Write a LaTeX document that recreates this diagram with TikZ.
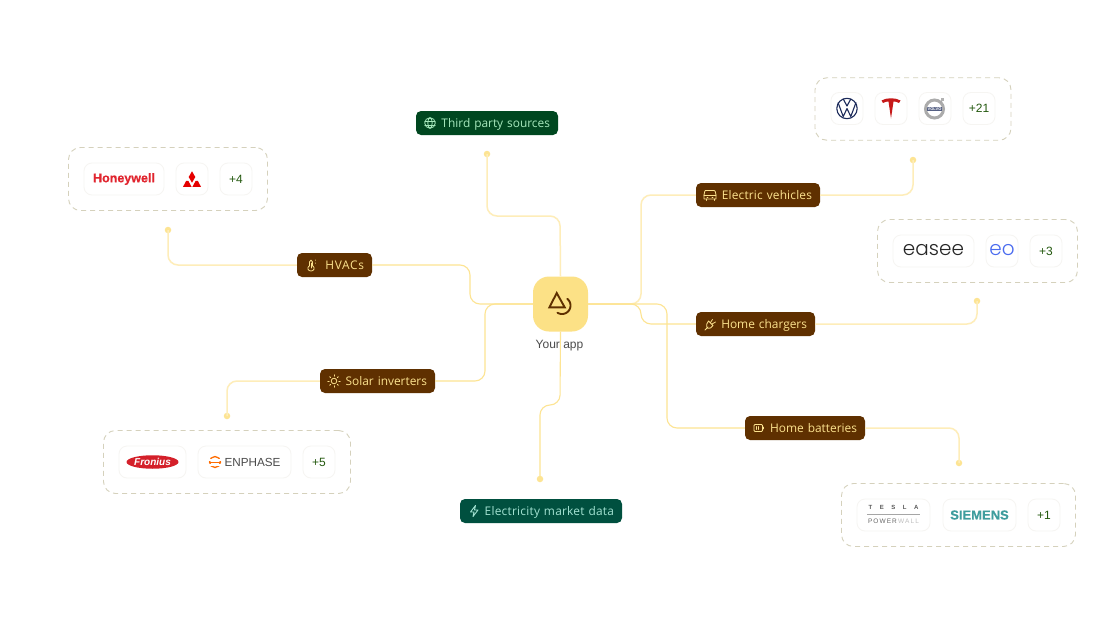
\documentclass[tikz,border=0pt]{standalone}
\usepackage{fontspec}
\setmainfont{Liberation Sans}
\newfontfamily\pillfont{Open Sans}
\newfontfamily\popfont{Poppins}[UprightFont=* Light]
\newfontfamily\heavyfont{Liberation Sans}[BoldFeatures={FakeBold=0.5}]
\usetikzlibrary{shapes.geometric,calc}
\definecolor{wirec}{HTML}{FDE493}
\definecolor{wirel}{HTML}{FEEDB9}
\definecolor{brownp}{HTML}{5F3000}
\definecolor{browntx}{HTML}{FCE28E}
\definecolor{greenp}{HTML}{004720}
\definecolor{greentx}{HTML}{A6E8BC}
\definecolor{tealp}{HTML}{00503F}
\definecolor{tealtx}{HTML}{A3E2D2}
\definecolor{dashc}{HTML}{D5D1BC}
\definecolor{cardb}{HTML}{F6F5F2}
\definecolor{plusc}{HTML}{24590F}
\definecolor{appc}{HTML}{FCE186}
\definecolor{navyvw}{HTML}{1B2A5A}
\definecolor{froniusred}{HTML}{D4202A}
\tikzset{
  x=1pt,y=-1pt,
  wire/.style={draw=wirec,line width=1.1pt,rounded corners=10pt},
  wirelite/.style={draw=wirel,line width=1.5pt,rounded corners=10pt},
  enddot/.style={circle,fill=wirec,inner sep=0pt,minimum size=6.5pt},
  pillbase/.style={rounded corners=5pt,minimum height=24pt,inner xsep=8pt,inner ysep=0pt,text height=10pt,text depth=2pt,text width=#1,align=right,font=\pillfont\fontsize{11.9}{13}\selectfont},
  brownpill/.style={pillbase=#1,fill=brownp,text=browntx},
  greenpill/.style={pillbase=#1,fill=greenp,text=greentx},
  tealpill/.style={pillbase=#1,fill=tealp,text=tealtx},
  dashbox/.style={draw=dashc,line width=0.9pt,dash pattern=on 5pt off 4pt,rounded corners=12pt},
  card/.style={draw=cardb,line width=0.8pt,fill=white,rounded corners=8pt,minimum height=32pt,minimum width=#1,inner sep=0pt},
  card/.default=32pt,
  plustx/.style={text=plusc,font=\fontsize{12}{14}\selectfont},
  icob/.style={draw=browntx,line width=0.8pt,line cap=round,line join=round},
  icog/.style={draw=greentx,line width=0.8pt,line cap=round,line join=round},
  icot/.style={draw=tealtx,line width=0.9pt,line cap=round,line join=round},
  appico/.style={draw=brownp,line width=1.9pt,line join=miter,line cap=round},
}
\begin{document}
\begin{tikzpicture}
\useasboundingbox (0,0) rectangle (1120,640);
\fill[white] (0,0) rectangle (1120,640);

% central app and end points
\node[fill=appc,rounded corners=16pt,minimum size=55pt,inner sep=0pt] (app) at (560.5,304) {};
\node[enddot] (dtp) at (487,154) {};
\node[enddot] (dhv) at (168,230) {};
\node[enddot] (dso) at (227,416) {};
\node[enddot] (dem) at (540,479) {};
\node[enddot] (dev) at (913,160) {};
\node[enddot] (dch) at (977,301) {};
\node[enddot] (dba) at (959,463) {};

% pills
\node[greenpill=126pt] (tps) at (487,123) {Third party sources};
\node[brownpill=59pt] (hvac) at (334.5,265) {\addfontfeature{LetterSpace=6}HVACs};
\node[brownpill=99pt] (solar) at (377.5,381) {Solar inverters};
\node[tealpill=146pt] (elec) at (541,511) {\addfontfeature{LetterSpace=2}Electricity market data};
\node[brownpill=108pt] (ev) at (758,195) {\addfontfeature{LetterSpace=1.5}Electric vehicles};
\node[brownpill=103pt] (chg) at (755.5,324) {Home chargers};
\node[brownpill=104pt] (bat) at (805,428) {Home batteries};

% waypoints
\coordinate (wtp) at (560,216);
\coordinate (whv) at (470,304);
\coordinate (wso) at (485,304);
\coordinate (wem) at (560,405);
\coordinate (wev) at (641,195);
\coordinate (wch) at (641,324);
\coordinate (wba) at (667,428);

% connectors
\draw[wirelite] (dtp.center) |- (wtp) -- (app.north);
\draw[wirelite] (dhv.center) |- (hvac.west);
\draw[wire] (hvac.east) -| (whv) -- (app.west);
\draw[wirelite] (dso.center) |- (solar.west);
\draw[wire] (solar.east) -| (wso) -- (app.west);
\draw[wire] (dem.center) |- (wem) -- (app.south);
\draw[wirelite] (app.east) -| (wev) -- (ev.west);
\draw[wirelite] (ev.east) -| (dev.center);
\draw[wire] (app.east) -| (wch) -- (chg.west);
\draw[wirelite] (chg.east) -| (dch.center);
\draw[wire] (app.east) -| (wba) -- (bat.west);
\draw[wirelite] (bat.east) -| (dba.center);

\node[text=black!70,font=\fontsize{12}{14}\selectfont] (applabel) at (559.5,345.5) {Your app};

% app glyph
\draw[appico] (556.7,293) -- (549.5,307.3) -- (564.7,307.3) -- cycle;
\draw[appico] plot[domain=-52:122,samples=30,smooth] ({562+8.5*cos(\x)},{305.5+8.5*sin(\x)});

% dashed groups
\node[dashbox,minimum width=196pt,minimum height=62.5pt] (gev) at (913,109) {};
\node[dashbox,minimum width=200pt,minimum height=63pt] (gch) at (977.5,251) {};
\node[dashbox,minimum width=199pt,minimum height=63pt] (ghv) at (168,179) {};
\node[dashbox,minimum width=247pt,minimum height=63pt] (gso) at (227,462) {};
\node[dashbox,minimum width=234pt,minimum height=63pt] (gba) at (958.5,515) {};

% HVAC cards
\node[card=80pt,font=\heavyfont\bfseries\fontsize{12.5}{14}\selectfont] (honey) at (124,179) {\textcolor[HTML]{E1252F}{Honeywell}};
\node[card] (mitsu) at (192,179) {};
\fill[red!90!black] (192,171.3) -- (195.3,177) -- (192,182.7) -- (188.7,177) -- cycle;
\fill[red!90!black] (191.6,186.9) -- (183,186.9) -- (186.2,180.8) -- (188.4,181) -- cycle;
\fill[red!90!black] (192.4,186.9) -- (201,186.9) -- (197.8,180.8) -- (195.6,181) -- cycle;
\node[card,plustx] (hvp) at (236,179) {+4};

% EV cards
\node[card] (vw) at (847,108.5) {};
\begin{scope}[draw=navyvw,line width=1.1pt,line join=round]
\draw (847,108.5) circle[radius=10.2pt];
\draw (843.2,99) -- (847,106) -- (850.8,99);
\draw (838,102.5) -- (843.2,116.5) -- (847,108.6) -- (850.8,116.5) -- (856,102.5);
\end{scope}
\node[card] (tesla) at (891,108.5) {};
\fill[red!75!black!90] (881.5,100.5) .. controls (886,97.5) and (896,97.5) .. (900.5,100.5) -- (899,103) .. controls (897,101.8) and (895,101.5) .. (893.5,101.5) -- (891,118.5) -- (888.5,101.5) .. controls (887,101.5) and (885,101.8) .. (883,103) -- cycle;
\node[card] (volvo) at (935,108.5) {};
\draw[black!33,line width=3pt] (934.5,109) circle[radius=9pt];
\draw[black!35,line width=1pt] (940,103) -- (943,99.5);
\fill[black!30] (941,98) rectangle (944,101);
\node[fill=navyvw!75,text=white,inner xsep=1pt,inner ysep=0.6pt,font=\bfseries\fontsize{4}{4}\selectfont] (volvotx) at (934.5,109) {VOLVO};
\node[card,plustx] (evp) at (979,108.5) {+21};

% Charger cards
\node[card=81pt,text=black!85,font=\popfont\fontsize{20}{22}\selectfont] (easee) at (933.5,251) {\raisebox{2pt}{easee}};
\node[card,font=\popfont\fontsize{20}{22}\selectfont] (eo) at (1002,251) {\textcolor[HTML]{4A6BEF}{\raisebox{2pt}{eo}}};
\node[card,plustx] (chp) at (1046,251) {+3};

% Solar cards
\node[card=67pt] (fron) at (152.5,462) {};
\node[ellipse,fill=froniusred,text=white,minimum width=52pt,minimum height=13.5pt,inner sep=0pt,font=\bfseries\itshape\fontsize{10}{10}\selectfont] (frontx) at (152.5,462) {Fronius};
\node[card=93pt] (enph) at (244.5,462) {};
\draw[orange!85!red,line width=1.3pt] (215,462) circle[radius=5.5pt];
\draw[white,line width=2pt] (208,459.5) -- (222,459.5) (208,464.5) -- (222,464.5);
\draw[orange!85!red,line width=1pt] (209,462) -- (221,462);
\node[text=black!70,font=\fontsize{11.7}{14}\selectfont,inner sep=0pt] (enphtx) at (252.5,462) {ENPHASE};
\node[card,plustx] (sop) at (319,462) {+5};

% Battery cards
\node[card=73pt] (pw) at (893.5,515) {};
\node[text=black!65,font=\bfseries\fontsize{6}{7}\selectfont,inner sep=0pt] (pwa) at (893.5,507.7) {T\hspace{7.5pt}E\hspace{7.5pt}S\hspace{7.5pt}L\hspace{7.5pt}A};
\draw[black!35,line width=0.5pt] (867,514.5) -- (920,514.5);
\node[font=\fontsize{6.5}{7}\selectfont,inner sep=0pt] (pwb) at (893.5,521) {\textcolor{black!60}{P\,O\,W\,E\,R}\textcolor{black!25}{\,W\,A\,L\,L}};
\node[card=73pt,font=\heavyfont\bfseries\fontsize{13}{15}\selectfont] (siem) at (979.5,515) {\textcolor[HTML]{3F9D9E}{SIEMENS}};
\node[card,plustx] (bap) at (1044,515) {+1};

% pill icons
\begin{scope}[icog]
\draw (430,123) circle[radius=5.3pt];
\draw (430,123) ellipse[x radius=2.2pt,y radius=5.3pt];
\draw (424.8,121) -- (435.2,121) (424.8,125) -- (435.2,125);
\end{scope}
\begin{scope}[icot]
\draw (475.5,505.5) -- (470.5,512) -- (474,512) -- (473,516.5) -- (478,510) -- (474.5,510) -- cycle;
\end{scope}
\begin{scope}[icob]
% thermometer
\draw (309.5,262) -- (309.5,266) (312.5,262) -- (312.5,266);
\draw (309.5,262) .. controls (309.5,259.5) and (312.5,259.5) .. (312.5,262);
\draw (309.5,265.5) .. controls (306.5,268) and (308,271) .. (311,271) .. controls (314,271) and (315.5,268) .. (312.5,265.5);
\draw (311,263) -- (311,268);
\draw (315,260) -- (315,260.2) (315,263) -- (315,263.2);
% sun
\draw (334,381) circle[radius=2.8pt];
\foreach \a in {0,45,...,315}{\draw ({334+4.8*cos(\a)},{381+4.8*sin(\a)}) -- ({334+6.2*cos(\a)},{381+6.2*sin(\a)});}
% car
\draw (705.5,190.5) -- (714,190.5) .. controls (715,190.5) and (715.3,191.5) .. (715.5,192.5) -- (716,195) -- (716,199) -- (704,199) -- (704,195) -- (704.5,192.5) .. controls (704.7,191.5) and (705,190.5) .. (705.5,190.5) -- cycle;
\draw (704,195) -- (716,195) (706,199) -- (706,200.5) (714,199) -- (714,200.5) (707,197) -- (708,197) (712,197) -- (713,197);
% plug
\draw (708,327) -- (705,330);
\draw (708.5,321) -- (713,325.5) -- (710.5,328) .. controls (708.5,329) and (707,328) .. (706.8,327) .. controls (706,325) and (707,323) .. (708.5,321) -- cycle;
\draw (710.5,322.5) -- (712.5,319.5) (712,324) -- (715.5,322);
% battery
\draw[rounded corners=1pt] (754,424.5) rectangle (762.5,431.5);
\draw (763.8,427) -- (763.8,429);
\draw (756.5,426.5) -- (756.5,429.5) (758.8,426.5) -- (758.8,429.5);
\end{scope}
\end{tikzpicture}
\end{document}
